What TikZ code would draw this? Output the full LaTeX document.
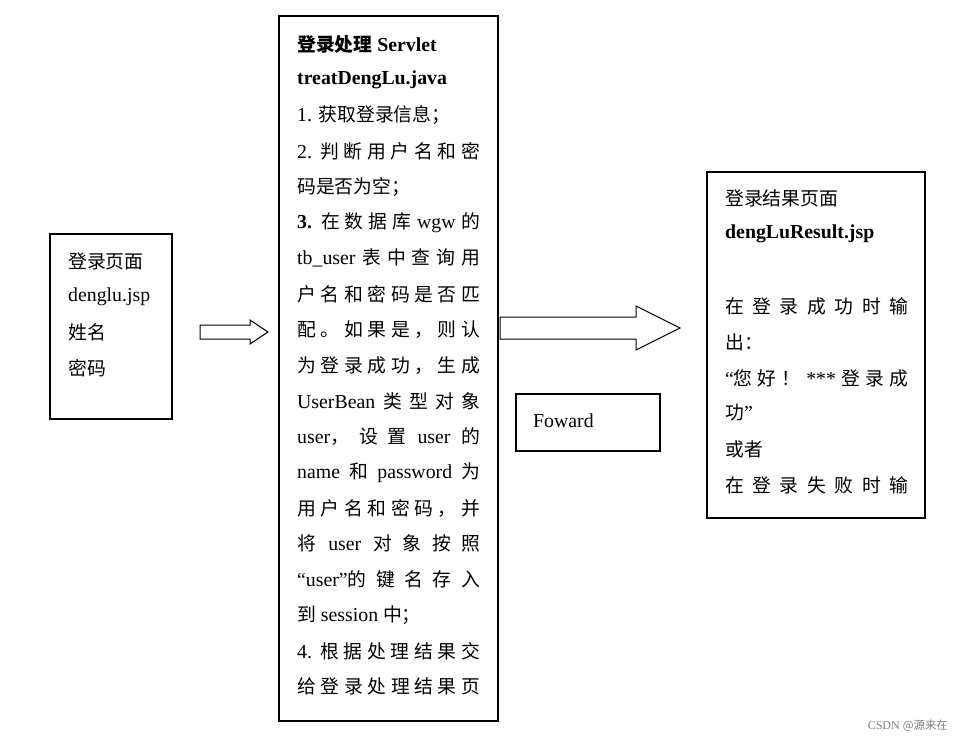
\documentclass[tikz,border=0pt]{standalone}
\usepackage{fontspec}
\setmainfont{Liberation Serif}
\newfontfamily\cj{Noto Sans CJK SC}[Scale=0.95]
\begin{document}
\begin{tikzpicture}[x=1pt,y=-1pt,
  box/.style={draw,line width=1.3pt},
  tl/.style={anchor=west,inner sep=0pt,font=\fontsize{19.8}{22}\selectfont},
  harrow/.style={draw,line width=1pt,fill=white}]
\useasboundingbox (0,0) rectangle (963,742);
\newcommand{\J}[1]{\makebox[183pt][s]{#1}}
% boxes
\draw[box] (50,234) rectangle (172,419);
\draw[box] (279,16) rectangle (498,721);
\draw[box] (516,394) rectangle (660,451);
\draw[box] (707,172) rectangle (925,518);
% hollow arrows
\draw[harrow] (200,325) -- (250,325) -- (250,320) -- (268,332) -- (250,344) -- (250,339) -- (200,339) -- cycle;
\draw[harrow] (500,317) -- (636,317) -- (636,306) -- (680,328) -- (636,350) -- (636,339) -- (500,339) -- cycle;
% left
\node[tl] (l1) at (68,261) {\cj 登录页面};
\node[tl] (l2) at (68,297) {denglu.jsp};
\node[tl] (l3) at (68,332) {\cj 姓名};
\node[tl] (l4) at (68,368) {\cj 密码};
% middle
\node[tl] (m0) at (297,44.0) {\bfseries{\cj 登录处理} Servlet};
\node[tl] (m1) at (297,79.7) {\bfseries treatDengLu.java};
\node[tl] (m2) at (297,115.4) {1. {\cj 获取登录信息；}};
\node[tl] (m3) at (297,151.1) {\J{2. {\cj 判 断 用 户 名 和 密}}};
\node[tl] (m4) at (297,186.8) {\cj 码是否为空；};
\node[tl] (m5) at (297,222.5) {\J{\textbf{3.} {\cj 在 数 据 库} wgw {\cj 的}}};
\node[tl] (m6) at (297,258.2) {\J{tb\_user {\cj 表 中 查 询 用}}};
\node[tl] (m7) at (297,293.9) {\J{\cj 户 名 和 密 码 是 否 匹}};
\node[tl] (m8) at (297,329.6) {\J{\cj 配 。 如 果 是 ， 则 认}};
\node[tl] (m9) at (297,365.3) {\J{\cj 为 登 录 成 功 ， 生 成}};
\node[tl] (m10) at (297,401.0) {\J{UserBean {\cj 类 型 对 象}}};
\node[tl] (m11) at (297,436.7) {\J{user{\cj ，} {\cj 设 置} user {\cj 的}}};
\node[tl] (m12) at (297,472.4) {\J{name {\cj 和} password {\cj 为}}};
\node[tl] (m13) at (297,508.1) {\J{\cj 用 户 名 和 密 码 ， 并}};
\node[tl] (m14) at (297,543.8) {\J{{\cj 将} user {\cj 对 象 按 照}}};
\node[tl] (m15) at (297,579.5) {\J{“user”{\cj 的 键 名 存 入}}};
\node[tl] (m16) at (297,615.2) {{\cj 到} session {\cj 中；}};
\node[tl] (m17) at (297,650.9) {\J{4. {\cj 根 据 处 理 结 果 交}}};
\node[tl] (m18) at (297,686.6) {\J{\cj 给 登 录 处 理 结 果 页}};
% foward
\node[tl] (f) at (533,421) {Foward};
% right
\node[tl] (r1) at (725,198) {\cj 登录结果页面};
\node[tl] (r2) at (725,234) {\bfseries dengLuResult.jsp};
\node[tl] (r3) at (725,306) {\J{\cj 在 登 录 成 功 时 输}};
\node[tl] (r4) at (725,342) {\cj 出：};
\node[tl] (r5) at (725,378) {\J{“{\cj 您 好 ！} *** {\cj 登 录 成}}};
\node[tl] (r6) at (725,413) {{\cj 功}”};
\node[tl] (r7) at (725,449) {\cj 或者};
\node[tl] (r8) at (725,485) {\J{\cj 在 登 录 失 败 时 输}};
\node[anchor=east,inner sep=0pt,text=gray,font=\fontsize{12}{14}\selectfont] (wm) at (948,726) {CSDN {\cj @源来在}};
\end{tikzpicture}
\end{document}
